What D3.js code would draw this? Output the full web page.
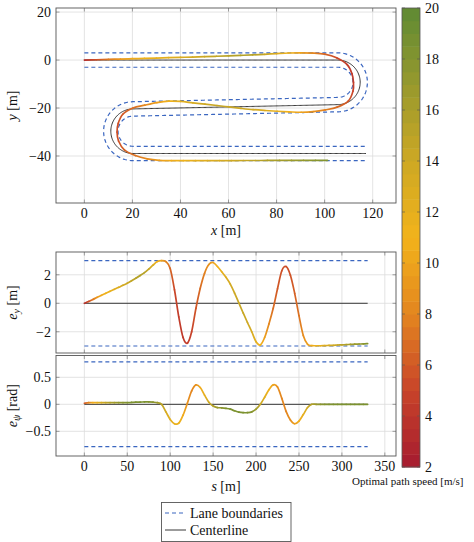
<!DOCTYPE html>
<html lang="en">
<head>
<meta charset="utf-8"/>
<script src="https://cdnjs.cloudflare.com/ajax/libs/d3/7.8.5/d3.min.js"></script>
<style>
body { margin: 0; background: #fff; }
text { font-family: "Liberation Serif", "DejaVu Serif", serif; fill: #111; }
</style>
</head>
<body>
<svg id="chart" width="474" height="542"></svg>
<script>
// track: straights and turns (length in m, turn in degrees, + = left)
var segLength = [105.5, 29.0, 85.6, 29.0, 97];
var segTurn = [0, -178.8, 0, 178.8, 0];
var laneHalfWidth = 3;
var headingBound = 0.785;
var pathEnd = 330;

// optimal path, sampled along the centerline coordinate s
var sPts = [0,5,10,15,20,25,30,35,40,45,50,55,60,65,70,75,80,85,90,95,100,105,110,115,120,125,130,135,140,145,150,155,160,165,170,175,180,185,190,195,200,205,210,215,220,225,230,235,240,245,250,255,260,265,270,275,280,285,290,295,300,305,310,315,320,325,330];
var eyVals = [0,0.13,0.27,0.42,0.56,0.7,0.84,0.98,1.12,1.26,1.41,1.58,1.76,1.95,2.15,2.4,2.68,2.93,3.0,2.92,2.45,0.95,-0.95,-2.4,-2.8,-2.0,-0.35,1.05,2.1,2.72,2.86,2.58,2.22,1.82,1.35,0.72,0.02,-0.68,-1.35,-2.0,-2.7,-2.92,-2.4,-1.45,-0.35,1.02,2.28,2.58,1.97,0.7,-0.87,-2.26,-2.88,-2.97,-2.98,-2.98,-2.97,-2.96,-2.95,-2.93,-2.92,-2.9,-2.89,-2.87,-2.86,-2.85,-2.83];
var epsiVals = [0.02,0.03,0.03,0.03,0.03,0.03,0.03,0.03,0.03,0.03,0.03,0.035,0.04,0.04,0.045,0.045,0.04,0.03,0.0,-0.14,-0.28,-0.36,-0.35,-0.2,0.02,0.25,0.36,0.31,0.17,0.04,-0.03,-0.06,-0.065,-0.075,-0.09,-0.12,-0.145,-0.155,-0.155,-0.14,-0.09,0.0,0.13,0.27,0.36,0.32,0.11,-0.13,-0.29,-0.36,-0.31,-0.19,-0.06,0,0,0,0,0,0,0,0,0,0,0,0,0,0];
var speedVals = [3.5,5.5,7.5,9.2,10.5,11.3,11.8,12.3,12.9,13.5,14.1,14.7,15.2,15.5,15.3,14.4,12.8,11.2,9.8,8.2,6.6,5.2,4.5,4.3,4.5,5.0,5.8,6.8,7.8,8.8,9.8,10.9,11.9,12.8,13.5,14.0,14.3,14.3,14.0,13.3,12.2,11.0,9.6,8.2,6.9,6.0,5.6,5.5,5.7,6.3,7.2,8.4,9.6,10.6,11.4,12.0,12.6,13.2,13.8,14.4,15.0,15.6,16.2,16.7,17.2,17.7,18.2];
var speedPsiVals = [6,8,10.5,12,13.4,14.6,15.6,16.4,17.2,17.8,18.2,18.4,18.4,18.4,18.4,18.2,17.8,16.8,15,13.3,12.2,11.8,11.6,10.5,8.8,8.0,8.8,10.5,12,13.8,15.5,16.8,17.6,18.2,18.4,18.4,18.4,18.4,18.3,18,16.6,14.3,12.4,11.2,10,8.6,8.0,8.0,8.6,9.6,10.6,12,13.8,15.5,16.8,17.6,18,18.2,18.3,18.3,18.4,18.4,18.4,18.4,18.4,18.4,18.4];

// axes ticks
var xTicksTop = [0,20,40,60,80,100,120];
var yTicksTop = [-40,-20,0,20];
var sTicks = [0,50,100,150,200,250,300,350];
var eyTicks = [-2,0,2];
var epsiTicks = [-0.5,0,0.5];
var cbarTicks = [2,4,6,8,10,12,14,16,18,20];

// colormap
var colorStops = [2,5,8,11,14,17,20];
var colorHex = ["#a51b2f","#c8432a","#e3851f","#f2b31b","#cda824","#97992d","#5e8a34"];

var svg = d3.select("#chart");
var defs = svg.append("defs");
var color = d3.scaleLinear().domain(colorStops).range(colorHex).interpolate(d3.interpolateRgb);

var xT = d3.scaleLinear().domain([-11.8,129.7]).range([56,396]);
var yT = d3.scaleLinear().domain([-59.6,21.7]).range([203,8]);
var sX = d3.scaleLinear().domain([-33,363]).range([56,396]);
var yEy = d3.scaleLinear().domain([-3.49,3.6]).range([353,252]);
var yPsi = d3.scaleLinear().domain([-0.957,0.904]).range([456,355.5]);
var cY = d3.scaleLinear().domain([2,20]).range([467,8]);

var fs = 14;
var minus = function(v) { return String(v).replace("-", "\u2212"); };

// pose on the centerline at distance s
function pose(s) {
  var x = 0, y = 0, th = 0, rest = s;
  for (var i = 0; i < segLength.length; i++) {
    var L = segLength[i], phi = segTurn[i] * Math.PI / 180;
    var l = Math.min(rest, L);
    if (phi === 0) {
      x += l * Math.cos(th); y += l * Math.sin(th);
    } else {
      var k = phi > 0 ? 1 : -1, r = L / Math.abs(phi);
      var cx = x - k * r * Math.sin(th), cy = y + k * r * Math.cos(th);
      th = th + phi * l / L;
      x = cx + k * r * Math.sin(th); y = cy - k * r * Math.cos(th);
    }
    rest -= l;
    if (rest <= 0) break;
  }
  return {x: x, y: y, th: th};
}
function offsetPt(s, e) {
  var p = pose(s);
  return [p.x - e * Math.sin(p.th), p.y + e * Math.cos(p.th)];
}

function frame(g, x, y, xt, yt, xLabels, y0, y1) {
  var x0 = x.range()[0], x1 = x.range()[1];
  g.selectAll(".gx").data(xt).enter().append("line")
    .attr("x1", d => x(d)).attr("x2", d => x(d)).attr("y1", y0).attr("y2", y1)
    .attr("stroke", "#dcdcdc").attr("stroke-width", 0.8);
  g.selectAll(".gy").data(yt).enter().append("line")
    .attr("y1", d => y(d)).attr("y2", d => y(d)).attr("x1", x0).attr("x2", x1)
    .attr("stroke", "#dcdcdc").attr("stroke-width", 0.8);
  g.append("g").selectAll("text").data(yt).enter().append("text")
    .attr("x", 51).attr("y", d => y(d) + 5).attr("text-anchor", "end")
    .attr("font-size", fs).text(minus);
  if (xLabels) {
    g.append("g").selectAll("text").data(xt).enter().append("text")
      .attr("x", d => x(d)).attr("y", y1 + 14.5).attr("text-anchor", "middle")
      .attr("font-size", fs).text(minus);
  }
}
function box(g, x, y0, y1, xt, y, yt) {
  var x0 = x.range()[0], x1 = x.range()[1];
  var tk = g.append("g").attr("stroke", "#666").attr("stroke-width", 0.6);
  xt.forEach(function(d) {
    tk.append("line").attr("x1", x(d)).attr("x2", x(d)).attr("y1", y1).attr("y2", y1 - 3.5);
    tk.append("line").attr("x1", x(d)).attr("x2", x(d)).attr("y1", y0).attr("y2", y0 + 3.5);
  });
  yt.forEach(function(d) {
    tk.append("line").attr("y1", y(d)).attr("y2", y(d)).attr("x1", x0).attr("x2", x0 + 3.5);
    tk.append("line").attr("y1", y(d)).attr("y2", y(d)).attr("x1", x1).attr("x2", x1 - 3.5);
  });
  g.append("rect").attr("x", x0).attr("y", y0).attr("width", x1 - x0).attr("height", y1 - y0)
    .attr("fill", "none").attr("stroke", "#555").attr("stroke-width", 0.9);
}

var gid = 0;
function colorPath(g, pts, vals) {
  var n = pts.length;
  for (var i = 0; i < n - 1; i++) {
    var p0 = pts[Math.max(i - 1, 0)], p1 = pts[i], p2 = pts[i + 1], p3 = pts[Math.min(i + 2, n - 1)];
    var c1 = [p1[0] + (p2[0] - p0[0]) / 6, p1[1] + (p2[1] - p0[1]) / 6];
    var c2 = [p2[0] - (p3[0] - p1[0]) / 6, p2[1] - (p3[1] - p1[1]) / 6];
    var id = "gr" + (gid++);
    var lgr = defs.append("linearGradient").attr("id", id).attr("gradientUnits", "userSpaceOnUse")
      .attr("x1", p1[0]).attr("y1", p1[1]).attr("x2", p2[0]).attr("y2", p2[1]);
    lgr.append("stop").attr("offset", 0).attr("stop-color", color(vals[i]));
    lgr.append("stop").attr("offset", 1).attr("stop-color", color(vals[i + 1]));
    g.append("path")
      .attr("d", "M" + p1 + "C" + c1 + " " + c2 + " " + p2)
      .attr("fill", "none").attr("stroke", "url(#" + id + ")")
      .attr("stroke-width", 1.7).attr("stroke-linecap", "round");
  }
}

// ---------- top plot: x-y ----------
var gTop = svg.append("g");
frame(gTop, xT, yT, xTicksTop, yTicksTop, true, 8, 203);
var trackLen = d3.sum(segLength);
var sFine = d3.range(0, trackLen + 0.01, 0.5);
var lineT = d3.line().x(d => xT(d[0])).y(d => yT(d[1]));
[laneHalfWidth, -laneHalfWidth].forEach(function(w) {
  gTop.append("path").attr("d", lineT(sFine.map(s => offsetPt(s, w))))
    .attr("fill", "none").attr("stroke", "#3a66c0").attr("stroke-width", 1.2).attr("stroke-dasharray", "4,3");
});
gTop.append("path").attr("d", lineT(sFine.map(s => offsetPt(s, 0))))
  .attr("fill", "none").attr("stroke", "#222").attr("stroke-width", 0.9);
colorPath(gTop, sPts.map((s, i) => { var p = offsetPt(s, eyVals[i]); return [xT(p[0]), yT(p[1])]; }), speedVals);
box(gTop, xT, 8, 203, xTicksTop, yT, yTicksTop);
gTop.append("text").attr("x", 226).attr("y", 235).attr("text-anchor", "middle").attr("font-size", fs)
  .html('<tspan font-style="italic">x</tspan> [m]');
gTop.append("text").attr("transform", "translate(17,105.5) rotate(-90)").attr("text-anchor", "middle").attr("font-size", fs)
  .html('<tspan font-style="italic">y</tspan> [m]');

// ---------- middle plot: e_y ----------
var gMid = svg.append("g");
frame(gMid, sX, yEy, sTicks, eyTicks, false, 252, 353);
[3, -3].forEach(function(b) {
  gMid.append("line").attr("x1", sX(0)).attr("x2", sX(pathEnd)).attr("y1", yEy(b)).attr("y2", yEy(b))
    .attr("stroke", "#3a66c0").attr("stroke-width", 1.2).attr("stroke-dasharray", "4,3");
});
gMid.append("line").attr("x1", sX(0)).attr("x2", sX(pathEnd)).attr("y1", yEy(0)).attr("y2", yEy(0))
  .attr("stroke", "#222").attr("stroke-width", 0.9);
colorPath(gMid, sPts.map((s, i) => [sX(s), yEy(eyVals[i])]), speedVals);
box(gMid, sX, 252, 353, sTicks, yEy, eyTicks);
gMid.append("text").attr("transform", "translate(17,302.5) rotate(-90)").attr("text-anchor", "middle").attr("font-size", fs)
  .html('<tspan font-style="italic">e</tspan><tspan font-style="italic" font-size="10" dy="3">y</tspan><tspan dy="-3"> [m]</tspan>');

// ---------- bottom plot: e_psi ----------
var gBot = svg.append("g");
frame(gBot, sX, yPsi, sTicks, epsiTicks, true, 355.5, 456);
[headingBound, -headingBound].forEach(function(b) {
  gBot.append("line").attr("x1", sX(0)).attr("x2", sX(pathEnd)).attr("y1", yPsi(b)).attr("y2", yPsi(b))
    .attr("stroke", "#3a66c0").attr("stroke-width", 1.2).attr("stroke-dasharray", "4,3");
});
gBot.append("line").attr("x1", sX(0)).attr("x2", sX(pathEnd)).attr("y1", yPsi(0)).attr("y2", yPsi(0))
  .attr("stroke", "#222").attr("stroke-width", 0.9);
colorPath(gBot, sPts.map((s, i) => [sX(s), yPsi(epsiVals[i])]), speedPsiVals);
box(gBot, sX, 355.5, 456, sTicks, yPsi, epsiTicks);
gBot.append("text").attr("x", 226).attr("y", 491).attr("text-anchor", "middle").attr("font-size", fs)
  .html('<tspan font-style="italic">s</tspan> [m]');
gBot.append("text").attr("transform", "translate(17,405.7) rotate(-90)").attr("text-anchor", "middle").attr("font-size", fs)
  .html('<tspan font-style="italic">e</tspan><tspan font-style="italic" font-size="10" dy="3">\u03C8</tspan><tspan dy="-3"> [rad]</tspan>');

// ---------- colorbar ----------
var cb = svg.append("g");
var bands = d3.range(2, 20, 0.5);
cb.selectAll("rect.band").data(bands).enter().append("rect")
  .attr("x", 402).attr("width", 18)
  .attr("y", d => cY(d + 0.5)).attr("height", d => cY(d) - cY(d + 0.5) + 0.5)
  .attr("fill", d => color(d + 0.25));
cbarTicks.forEach(function(d) {
  cb.append("line").attr("x1", 402).attr("x2", 405).attr("y1", cY(d)).attr("y2", cY(d)).attr("stroke", "#555").attr("stroke-width", 0.6);
  cb.append("line").attr("x1", 420).attr("x2", 417).attr("y1", cY(d)).attr("y2", cY(d)).attr("stroke", "#555").attr("stroke-width", 0.6);
});
cb.append("rect").attr("x", 402).attr("y", 8).attr("width", 18).attr("height", 459)
  .attr("fill", "none").attr("stroke", "#555").attr("stroke-width", 0.8);
cb.selectAll("text.ct").data(cbarTicks).enter().append("text")
  .attr("x", 425).attr("y", d => cY(d) + 4.5).attr("font-size", fs).text(d => d);
cb.append("text").attr("x", 352).attr("y", 485).attr("font-size", 11).text("Optimal path speed [m/s]");

// ---------- legend ----------
var leg = svg.append("g");
leg.append("rect").attr("x", 161.5).attr("y", 502.5).attr("width", 129.5).attr("height", 39)
  .attr("fill", "#fff").attr("stroke", "#555").attr("stroke-width", 0.9);
leg.append("line").attr("x1", 165).attr("x2", 186).attr("y1", 513).attr("y2", 513)
  .attr("stroke", "#3a66c0").attr("stroke-width", 1.2).attr("stroke-dasharray", "4,3");
leg.append("line").attr("x1", 165).attr("x2", 186).attr("y1", 530).attr("y2", 530)
  .attr("stroke", "#222").attr("stroke-width", 0.9);
leg.append("text").attr("x", 190).attr("y", 518).attr("font-size", fs).text("Lane boundaries");
leg.append("text").attr("x", 190).attr("y", 535).attr("font-size", fs).text("Centerline");
</script>
</body>
</html>
